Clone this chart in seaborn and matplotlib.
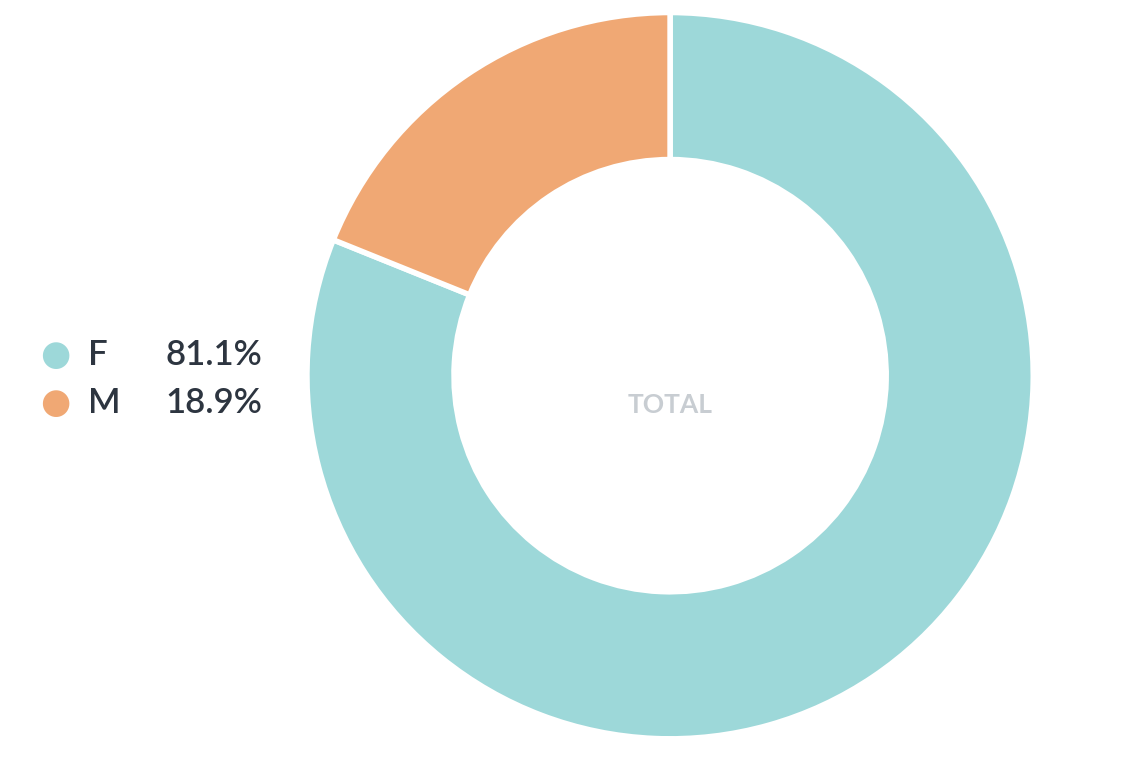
import matplotlib.pyplot as plt
import seaborn as sns

# Share by gender
labels = ["F", "M"]
shares = [81.1, 18.9]
colors = ["#9dd8d9", "#f0a874"]

sns.set_style("white")
plt.rcParams["font.family"] = ["Lato", "DejaVu Sans"]

fig = plt.figure(figsize=(11.3, 7.62), dpi=100)
ax = fig.add_axes([0.27, 0.028, 0.646, 0.958])
ax.pie(shares, colors=colors, startangle=90, counterclock=False, radius=1,
       wedgeprops=dict(width=0.405, edgecolor="white", linewidth=4))
ax.set_xlim(-1.005, 1.005)
ax.set_ylim(-1.005, 1.005)
ax.set_aspect("equal")
ax.text(0, -0.08, "TOTAL", ha="center", va="center", fontsize=19,
        color="#c8cdd2", fontweight="bold")

# legend drawn as text in figure coords
for i, (lab, val, col) in enumerate(zip(labels, shares, colors)):
    y = 1 - (355 + i * 48) / 762
    fig.text(55 / 1130, y, "\u25cf", color=col, fontsize=25, ha="center", va="center",
             family="DejaVu Sans")
    fig.text(88 / 1130, y, lab, color="#2d3540", fontsize=25, ha="left", va="center",
             fontweight="semibold")
    fig.text(262 / 1130, y, f"{val}%", color="#2d3540", fontsize=25, ha="right",
             va="center", fontweight="semibold")

plt.savefig("out.png", dpi=100)
